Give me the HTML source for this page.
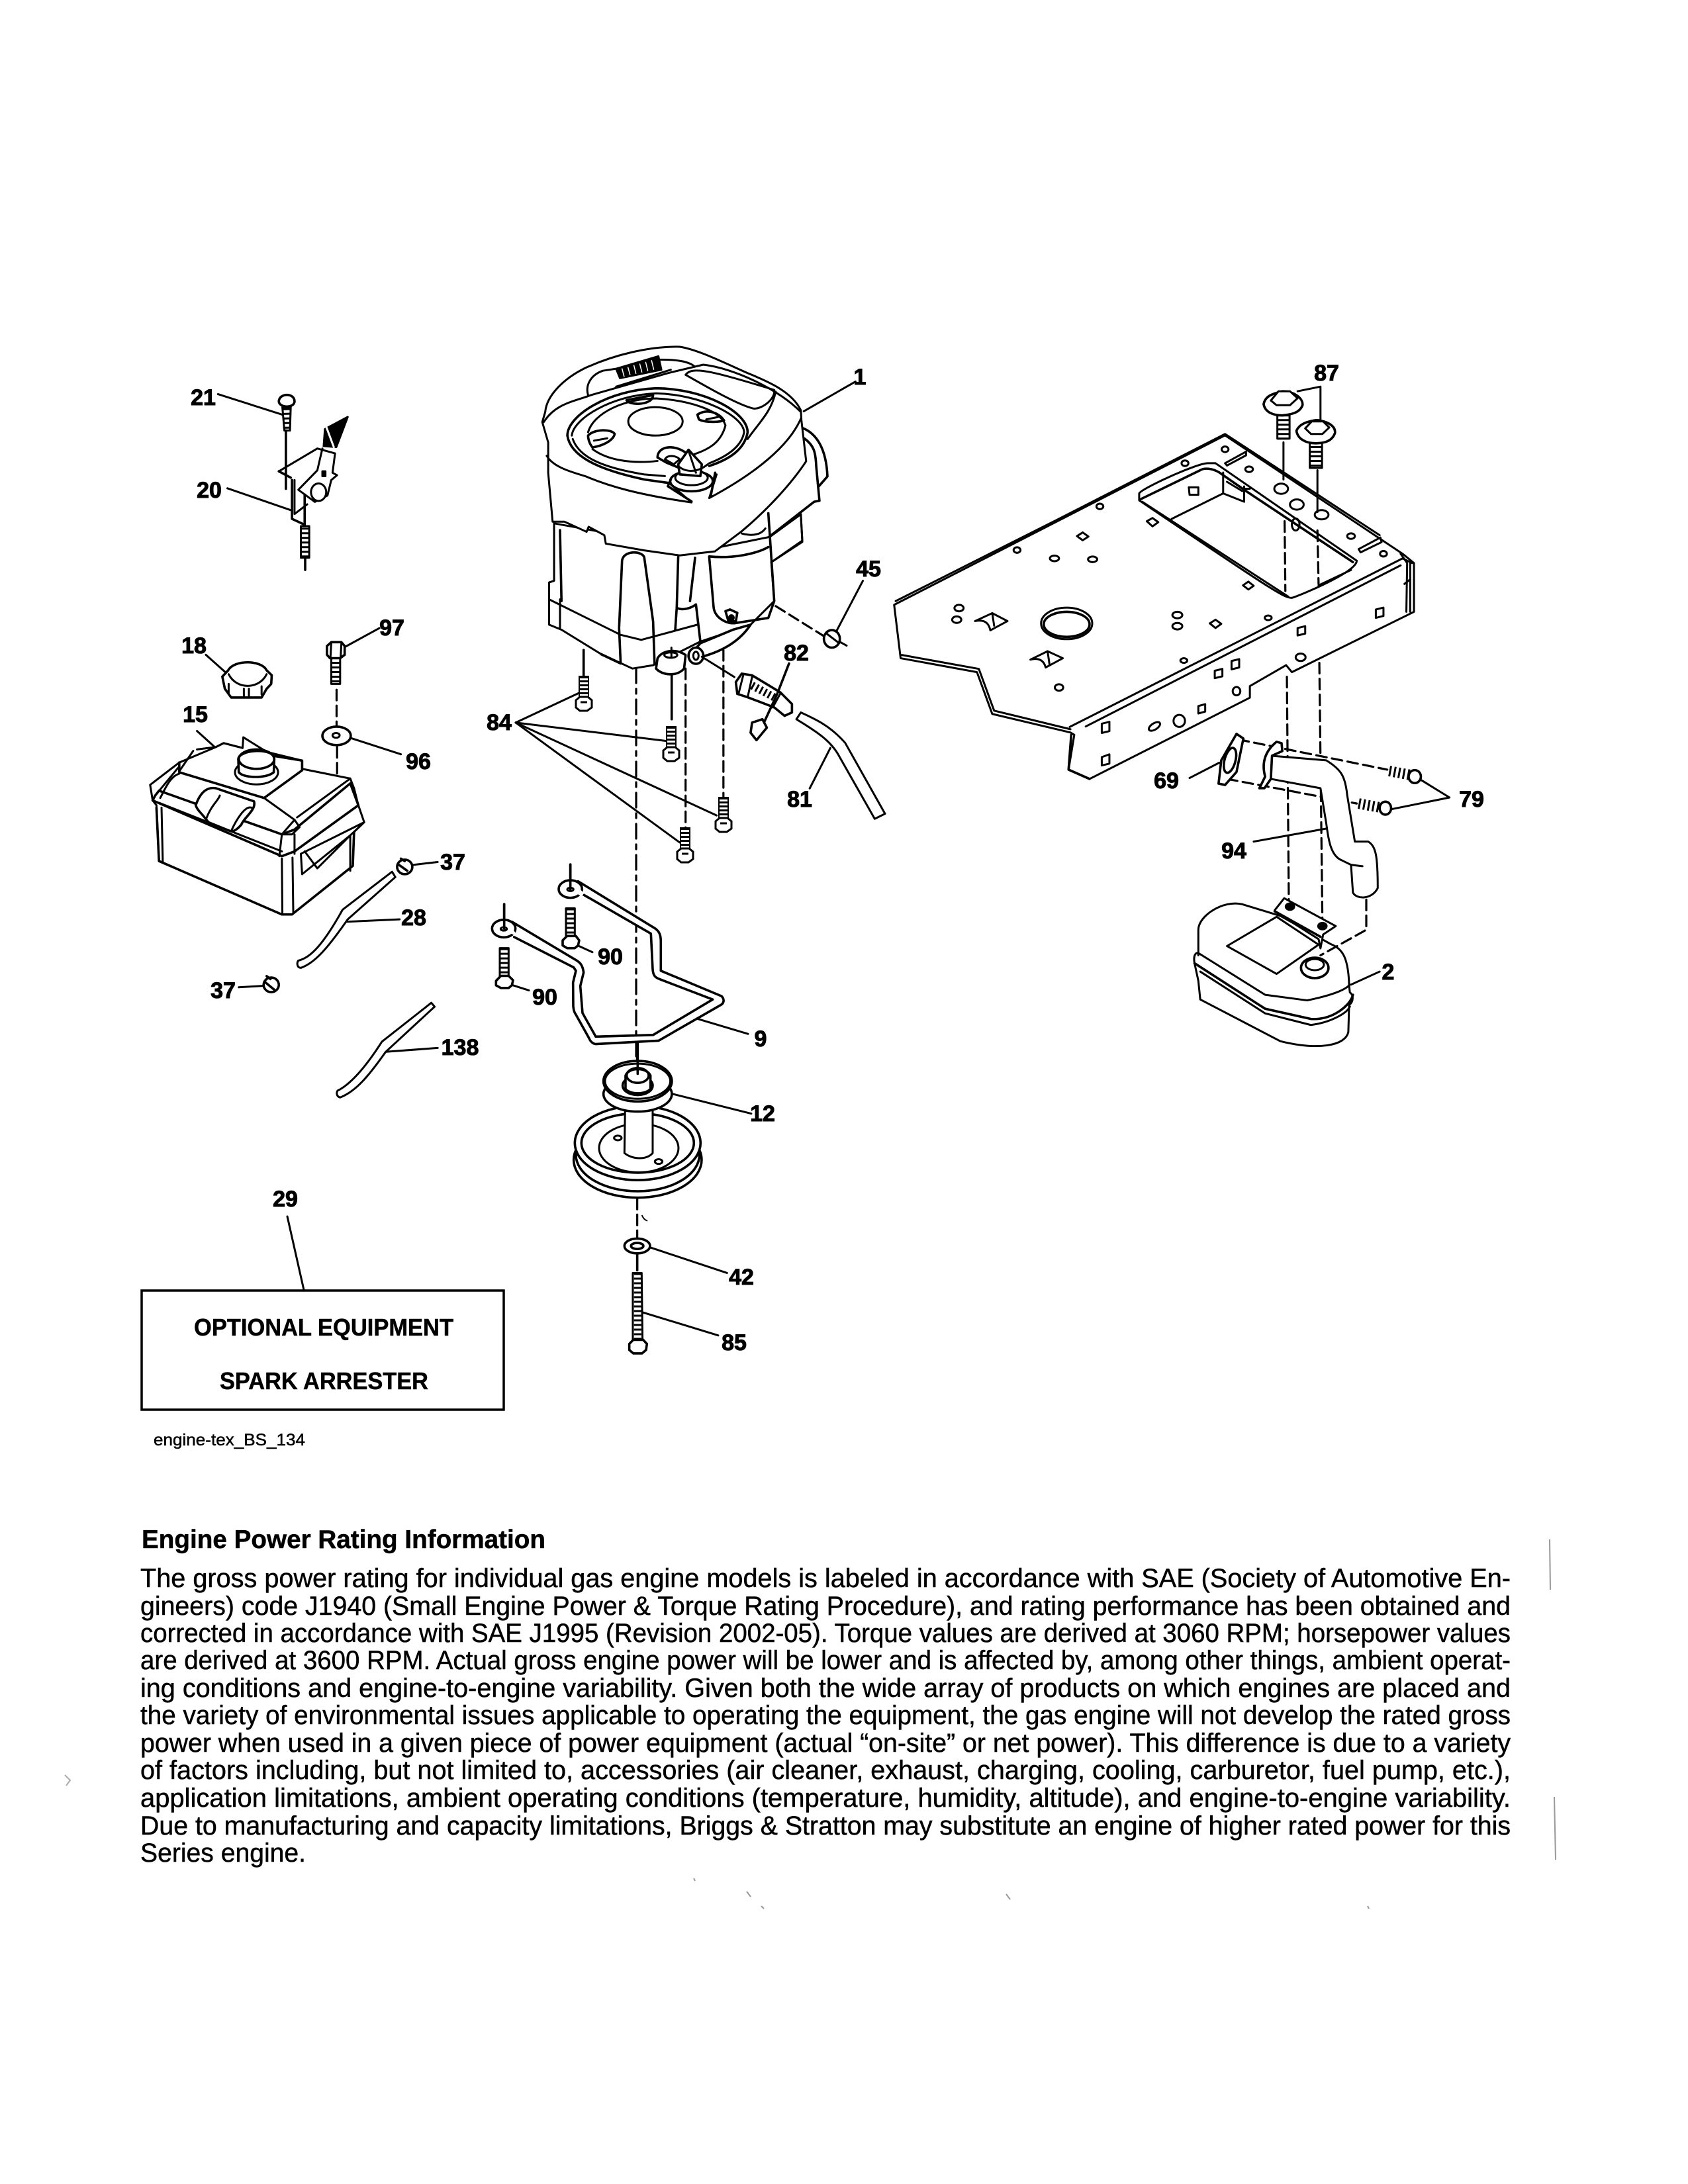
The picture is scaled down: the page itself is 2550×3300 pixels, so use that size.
<!DOCTYPE html>
<html><head><meta charset="utf-8"><title>Engine parts diagram</title>
<style>
html,body{margin:0;padding:0;background:#fff}
svg{display:block}
svg *{vector-effect:non-scaling-stroke}
.p{fill:none;stroke:#000;stroke-width:3;stroke-linejoin:round;stroke-linecap:round}
.w{fill:#fff}
.th{stroke-width:3.6}
.t{stroke-dasharray:3 4;stroke-linecap:butt}
.d{stroke-dasharray:22 9 7 9;stroke-width:3.2}
.d2{stroke-dasharray:16 8;stroke-width:3.2}
text{font-family:"Liberation Sans",Arial,sans-serif;fill:#000;stroke:#000;stroke-width:.5}
.l{font-weight:bold;font-size:34px;text-anchor:middle;stroke-width:1}
.b{font-size:40px}
</style></head><body>
<svg xmlns="http://www.w3.org/2000/svg" width="2550" height="3300" viewBox="0 0 2550 3300">
<rect width="2550" height="3300" fill="#fff"/>
<defs>
<g id="bolt"><rect x="-7" y="-42" width="14" height="33" fill="#fff" stroke="#000" stroke-width="2"/><line x1="0" y1="-42" x2="0" y2="-9" stroke="#000" stroke-width="13" stroke-dasharray="3 3"/>
<path d="M-12,-6 L-6,-11 L6,-11 L12,-6 L12,5 L5,10 L-6,10 L-12,5 Z" fill="#fff" stroke="#000" stroke-width="3"/><path d="M-5,-3 H5" stroke="#000" stroke-width="3"/></g>
</defs>

<!-- ENGINE -->
<g class="p" transform="translate(750,500) scale(.4464,.5102)">
<path class="w" stroke="none" d="M1037,288 C1082,304 1116,347 1120,431 L1091,460 L1093,503 L1075,506 L918,613 L918,529 L1048,386 Z"/>
<path class="th" d="M1037,288 C1082,304 1116,347 1120,431 L1091,460"/>
<path class="th" d="M1041,318 C1075,339 1080,360 1082,400 L1093,503 L1075,506 L918,613"/>
<path class="w" d="M195,570 L195,740 L178,745 L178,870 L220,885 L350,955 L460,1000 L530,990 L690,920 L860,870 L940,800 L930,685 L1035,625 L1030,543 L925,610 L700,650 Z"/>
<path d="M165,240 C170,190 230,140 300,110 C400,70 520,45 620,47 C680,55 760,90 850,125 C920,150 1000,180 1030,235 L1032,265 L1048,386 C1000,450 918,529 829,594 L739,653 L620,665 L500,650 L370,630 L365,605 L312,580 L305,595 L230,565 L190,565 L175,420 L175,330 L155,270 Z" class="w"/>
<path d="M160,270 C200,215 260,210 320,190 L580,125 L700,100 C800,110 950,170 1030,240"/>
<path d="M170,370 C190,400 240,415 300,430 C380,460 480,485 660,508 L590,455"/>
<path d="M1030,260 C990,340 880,420 720,495 L745,425"/>
<path d="M310,190 C300,160 320,130 360,118 L420,110 M555,85 C610,85 650,90 670,105"/>
<path d="M405,165 L590,115"/>
<path d="M405,112 L548,75 L558,115 L418,140 Z" fill="#000"/>
<path d="M425,112 L432,135 M445,108 L452,130 M465,102 L472,126 M485,98 L492,122 M505,93 L512,118 M525,88 L532,114" stroke="#fff" stroke-width="1.5"/>
<path d="M640,130 C660,105 720,115 940,175 C945,200 900,232 870,230 C820,220 720,170 640,130 Z"/>
<path d="M945,180 C930,240 890,270 850,320"/>
<path class="th" d="M240,310 C240,250 380,175 540,170 C700,170 850,240 850,300 C840,350 790,380 720,400"/>
<path d="M255,310 C260,260 390,190 540,185 C690,188 835,250 838,300 C830,340 785,370 720,392"/>
<path class="th" d="M240,310 C250,370 340,410 500,440 L580,450"/>
<path d="M258,320 C280,375 360,405 500,425 L570,430"/>
<path d="M310,300 C330,240 440,200 540,200 C650,205 760,235 775,280 C760,330 720,350 670,365"/>
<path d="M325,350 C370,380 450,395 545,385"/>
<ellipse cx="538" cy="268" rx="92" ry="42"/>
<path class="th" d="M310,310 C330,290 390,290 400,305 C395,325 360,340 325,345 C315,335 310,320 310,310 Z"/>
<path d="M330,325 L375,318"/>
<path class="th" d="M680,248 C710,230 750,240 770,265 C750,272 700,270 685,262 Z"/>
<path d="M710,262 L750,255"/>
<path class="th" d="M440,205 L530,190 C530,205 510,215 480,216 C460,216 445,212 440,205 Z"/>
<path class="w th" d="M545,375 C545,345 590,335 630,355 L650,365 L630,410 L575,390 Z"/>
<path d="M570,380 C580,365 610,370 620,380 L600,395 Z"/>
<ellipse class="w th" cx="660" cy="445" rx="72" ry="30"/>
<ellipse class="w" cx="660" cy="435" rx="55" ry="22"/>
<path class="w th" d="M615,395 L650,352 L695,395 L690,430 L620,425 Z"/>
<path d="M650,355 L675,420 M615,400 C640,420 680,420 715,395"/>
<path class="th" d="M590,440 L580,460 L660,505 M740,420 L725,490"/>
<!-- lower -->
<path class="th" d="M215,590 L220,800"/>
<path d="M178,795 L420,900 L490,915 L680,870"/>
<path class="th" d="M425,680 C430,650 490,650 500,670 L530,860 L535,985"/>
<path class="th" d="M425,680 L415,880 L420,980"/>
<path class="th" d="M355,958 L420,985"/>
<path d="M215,880 L215,795"/>
<path class="th" d="M615,670 L610,820 L605,885 M672,672 L655,800"/>
<path class="th" d="M610,820 C630,830 660,820 675,810 L690,920"/>
<path class="th" d="M720,670 L735,820 C740,850 780,870 810,865 L920,850 L940,800 L920,540"/>
<path class="th" d="M720,668 C800,675 880,660 920,640"/>
<path d="M830,600 C850,605 890,610 910,585 M925,610 L1030,543 L1035,621 L930,685"/>
<path class="w th" d="M775,830 L790,825 L815,835 L810,860 L785,860 Z"/>
<circle cx="795" cy="850" r="8" fill="#000"/>
<path class="w th" d="M650,965 L690,925 L800,885 L860,870 C830,910 780,945 695,965 Z"/>
<ellipse class="w th" cx="675" cy="962" rx="25" ry="24"/>
<ellipse cx="675" cy="962" rx="9" ry="12"/>
<path class="w th" d="M545,970 C560,945 610,940 640,960 L635,1000 C610,1025 560,1020 540,1000 Z"/>
<ellipse cx="590" cy="960" rx="22" ry="8"/>
<line x1="592" y1="938" x2="592" y2="965"/>
<!-- fasteners & dashes -->
<line class="th" x1="295" y1="945" x2="295" y2="1025"/>
<line class="th" x1="593" y1="1020" x2="593" y2="1150"/>
<line class="d2" x1="640" y1="1000" x2="640" y2="1480"/>
<line class="d2" x1="768" y1="945" x2="768" y2="1385"/>
<line x1="65" y1="1160" x2="285" y2="1070"/>
<line x1="65" y1="1160" x2="580" y2="1215"/>
<line x1="65" y1="1160" x2="745" y2="1435"/>
<line x1="65" y1="1160" x2="620" y2="1515"/>
<line x1="1040" y1="238" x2="1215" y2="150"/>
<line x1="1240" y1="740" x2="1150" y2="890"/>
<line class="d2" x1="945" y1="815" x2="1110" y2="905"/>
<line x1="1160" y1="920" x2="1185" y2="932"/>
<ellipse class="th w" cx="1135" cy="912" rx="27" ry="26"/>
<path d="M1115,895 L1160,925"/>
<line x1="695" y1="965" x2="805" y2="1025"/>
<!-- filter -->
<path class="w th" d="M810,1040 L830,1015 L865,1020 L960,1070 L1000,1105 L1000,1130 L975,1140 L940,1115 L850,1085 L815,1075 Z"/>
<path d="M835,1020 L820,1072 M865,1025 L850,1085 M960,1075 L935,1115"/>
<path class="t" d="M865,1050 L950,1090" stroke-width="12"/>
<path class="th" d="M990,985 L950,1075 L900,1170"/>
<path class="w th" d="M865,1160 L900,1150 L915,1175 L880,1212 L860,1190 Z"/>
<!-- hose 81 -->
<path class="w" d="M1030,1130 L1015,1150 C1070,1180 1130,1210 1160,1260 L1280,1445 L1315,1430 L1180,1220 C1130,1170 1080,1150 1030,1130 Z"/>
<line x1="1130" y1="1235" x2="1060" y2="1355"/>
</g>
<use href="#bolt" x="882" y="1064"/>
<use href="#bolt" x="1014" y="1140"/>
<use href="#bolt" x="1093" y="1247"/>
<use href="#bolt" x="1035" y="1293"/>

<!-- central axis -->
<line class="p d" x1="961" y1="1010" x2="961" y2="1620"/>

<!-- DECK -->
<g class="p" transform="translate(1300,500) scale(.5766,.7015)">
<path class="w" d="M88,590 L955,225 L1420,480 L1450,500 L1450,605 L1130,735 L1115,720 L1020,765 L1020,790 L600,965 L545,945 L560,870 L550,865 L345,825 L305,735 L105,705 Z"/>
<path d="M92,582 L512,408 L955,222 L1360,440 M108,698 L310,728 L350,818 L550,858"/>
<path d="M548,853 L1420,490 L1445,500 M590,852 L1415,505"/>
<path class="th" d="M552,870 L545,945 L600,965"/>
<path d="M1415,480 L1432,500 L1430,605 M1440,500 L1440,605"/>
<path class="w" d="M730,350 C735,340 880,285 910,285 L930,285 L1300,495 C1300,520 1150,570 1130,575 C1110,575 1090,565 730,365 Z"/>
<path class="th" d="M735,362 L890,300 C900,295 920,295 940,305 L1010,345 L1290,498"/>
<path d="M815,405 L950,350 L950,305 M950,350 L1005,368 L1005,335 M960,325 L1000,345"/>
<path d="M1200,548 L1285,515 M1005,340 L1020,340"/>
<path d="M738,368 L1120,572"/>
<ellipse cx="540" cy="630" rx="67" ry="34"/><ellipse class="th" cx="540" cy="632" rx="60" ry="27"/>
<g>
<ellipse cx="850" cy="285" rx="9" ry="6"/><ellipse cx="955" cy="255" rx="9" ry="6"/><ellipse cx="1018" cy="298" rx="10" ry="6"/><ellipse cx="627" cy="378" rx="9" ry="6"/><ellipse cx="410" cy="472" rx="9" ry="6"/><ellipse cx="508" cy="490" rx="12" ry="6"/><ellipse cx="608" cy="492" rx="12" ry="6"/><ellipse cx="258" cy="597" rx="12" ry="7"/><ellipse cx="252" cy="622" rx="12" ry="7"/><ellipse cx="830" cy="612" rx="13" ry="7"/><ellipse cx="830" cy="636" rx="13" ry="7"/><ellipse cx="847" cy="710" rx="9" ry="5"/><ellipse cx="1068" cy="618" rx="9" ry="5"/><ellipse cx="520" cy="768" rx="11" ry="7"/><ellipse cx="1285" cy="442" rx="10" ry="6"/><ellipse cx="1370" cy="480" rx="9" ry="6"/>
</g>
<g>
<path d="M860,337 H885 V353 H862 Z M750,410 L765,403 L780,412 L765,421 Z M567,442 L582,434 L597,443 L582,451 Z M1002,548 L1016,540 L1030,549 L1016,557 Z M915,630 L930,622 L945,631 L930,640 Z M1350,600 L1370,596 L1370,614 L1350,618 Z M1145,640 L1165,636 L1165,652 L1145,656 Z M972,711 L992,707 L992,725 L972,729 Z M928,732 L948,728 L948,744 L928,748 Z M885,808 L903,804 L903,820 L885,824 Z M632,846 L652,842 L652,862 L632,866 Z M632,918 L652,912 L652,932 L632,936 Z"/>
</g>
<ellipse cx="770" cy="852" rx="16" ry="7" transform="rotate(-25 770 852)"/>
<ellipse cx="835" cy="840" rx="15" ry="13"/><ellipse cx="985" cy="776" rx="10" ry="9"/><ellipse cx="1153" cy="703" rx="13" ry="8"/>
<ellipse cx="1102" cy="340" rx="18" ry="11"/><ellipse cx="1143" cy="374" rx="18" ry="11"/><ellipse cx="1208" cy="396" rx="18" ry="10"/>
<ellipse cx="1140" cy="417" rx="10" ry="13"/>
<path d="M955,285 L1010,260 L1010,268 L960,290 Z M1305,470 L1362,445 L1365,455 L1310,477 Z"/>
<path d="M300,625 L345,608 L385,625 L340,645 C335,625 320,622 300,625 Z M445,708 L490,690 L530,705 L485,725 C480,708 465,704 445,708 Z"/>
<path d="M345,608 L350,635 M490,690 L495,718"/>
<path d="M1425,545 L1440,535"/>
<!-- 87 bolts -->
<line x1="1108" y1="240" x2="1108" y2="320"/>
<line x1="1197" y1="300" x2="1197" y2="390"/>
<line class="d2" x1="1111" y1="410" x2="1113" y2="560"/>
<line class="d2" x1="1197" y1="430" x2="1200" y2="545"/>
<path class="w" d="M1092,180 L1092,232 L1124,232 L1124,180 Z"/>
<line class="t" x1="1107" y1="180" x2="1107" y2="235" stroke-width="18"/>
<path class="w th" d="M1056,158 C1060,140 1080,135 1105,130 C1135,130 1160,145 1158,160 C1150,178 1125,180 1105,182 C1080,182 1060,175 1056,158 Z"/>
<path class="w" d="M1075,150 L1095,130 L1125,130 L1145,145 L1125,160 L1090,160 Z"/>
<path class="w" d="M1177,238 L1177,295 L1209,295 L1209,238 Z"/>
<line class="t" x1="1192" y1="238" x2="1192" y2="295" stroke-width="18"/>
<path class="w th" d="M1142,215 C1150,200 1170,195 1195,192 C1225,195 1245,205 1243,220 C1235,238 1215,242 1192,242 C1165,242 1145,232 1142,215 Z"/>
<path class="w" d="M1165,210 L1182,195 L1212,195 L1228,208 L1210,222 L1180,222 Z"/>
<path d="M1145,130 L1205,120 L1205,190"/>
<!-- lower dashes -->
<line class="d2" x1="1117" y1="745" x2="1122" y2="1225"/>
<line class="d2" x1="1202" y1="715" x2="1205" y2="920"/>
<line class="d2" x1="1206" y1="990" x2="1210" y2="1270"/>
<line class="d2" x1="990" y1="880" x2="1380" y2="945"/>
<line class="d2" x1="960" y1="965" x2="1300" y2="1018"/>
<path class="w th" d="M945,925 L985,868 L1003,878 L985,950 L955,978 L938,975 Z"/>
<ellipse class="th" cx="968" cy="925" rx="14" ry="28" transform="rotate(20 968 925)"/>
<path class="w" d="M1075,915 L1220,925 C1260,945 1270,960 1275,1000 L1295,1100 L1330,1100 C1350,1110 1355,1130 1355,1200 C1340,1225 1300,1225 1290,1210 L1285,1150 L1260,1140 C1230,1130 1225,1090 1220,1060 L1205,985 L1075,965 Z"/>
<path d="M1285,1150 L1315,1153"/>
<path class="w th" d="M1045,985 L1060,960 C1050,930 1060,905 1090,885 L1103,888 L1105,905 L1078,915 L1075,965 L1058,985 Z"/>
<line class="t" x1="1385" y1="948" x2="1438" y2="956" stroke-width="16"/>
<line class="t" x1="1305" y1="1018" x2="1358" y2="1026" stroke-width="16"/>
<ellipse class="w th" cx="1452" cy="960" rx="16" ry="14"/>
<ellipse class="w th" cx="1375" cy="1028" rx="15" ry="14"/>
<path d="M1543,1005 L1470,968 M1543,1005 L1392,1030"/>
<line x1="1030" y1="1100" x2="1220" y2="1072"/>
<line x1="862" y1="963" x2="940" y2="930"/>
<line x1="1285" y1="1408" x2="1360" y2="1380"/>
<!-- muffler -->
<path class="w" d="M885,1290 C885,1260 950,1225 1000,1235 L1100,1260 L1230,1320 C1260,1330 1278,1345 1280,1410 L1282,1425 C1292,1430 1292,1445 1280,1452 L1278,1510 C1270,1540 1200,1550 1100,1530 L890,1440 L885,1400 L875,1362 C870,1340 885,1335 885,1345 Z"/>
<path d="M885,1340 L1060,1430 L1170,1442 C1230,1432 1270,1420 1282,1408"/>
<path class="th" d="M875,1362 L1060,1460 L1180,1482 C1240,1485 1285,1450 1290,1430"/>
<path d="M890,1380 L1060,1470 L1180,1495 C1230,1490 1275,1470 1282,1455"/>
<path d="M960,1325 L1090,1262 L1200,1322 L1090,1385 Z"/>
<path class="w" d="M1085,1248 L1110,1222 L1245,1282 L1212,1300 L1205,1330 L1200,1310 L1085,1250 Z"/>
<path class="th" d="M1085,1250 L1205,1305"/>
<ellipse cx="1125" cy="1240" rx="11" ry="7" fill="#000"/><ellipse cx="1210" cy="1282" rx="11" ry="7" fill="#000"/>
<path class="d2" d="M1325,1225 L1325,1290 L1205,1345"/>
<ellipse class="th" cx="1190" cy="1372" rx="36" ry="22"/><ellipse cx="1190" cy="1365" rx="24" ry="12"/>
</g>

<!-- LEVER, TANK etc -->
<g class="p" transform="translate(200,520) scale(.3827,.7334)">
<line x1="338" y1="103" x2="590" y2="145"/>
<line x1="375" y1="297" x2="625" y2="342"/>
<line x1="290" y1="640" x2="365" y2="675"/>
<line x1="255" y1="797" x2="325" y2="830"/>
<line x1="975" y1="585" x2="835" y2="625"/>
<line x1="865" y1="812" x2="1060" y2="845"/>
<line x1="1105" y1="1073" x2="1205" y2="1067"/>
<line x1="845" y1="1190" x2="1055" y2="1185"/>
<line x1="420" y1="1325" x2="520" y2="1322"/>
<line x1="1000" y1="1458" x2="1205" y2="1450"/>
<!-- screw 21 -->
<path class="w th" d="M578,118 C580,100 640,100 640,118 C640,132 580,132 578,118 Z"/>
<path class="w" d="M592,130 L600,178 L622,178 L625,130 Z"/>
<line class="t" x1="608" y1="132" x2="610" y2="178" stroke-width="11"/>
<line class="th" x1="606" y1="178" x2="606" y2="298"/>
<!-- lever -->
<path d="M760,175 L850,150 L805,212 L755,210 Z" fill="#000"/>
<path d="M765,170 L795,212" stroke="#fff"/>
<path class="w" d="M578,262 L730,215 L800,225 L790,265 L808,270 L785,280 L770,312 L720,325 L655,300 L730,260 L750,215"/>
<path class="th" d="M630,280 L630,360 L680,372 L680,310"/>
<path d="M640,280 L640,350 L690,330"/>
<ellipse class="w" cx="735" cy="305" rx="30" ry="18"/>
<rect x="750" y="262" width="12" height="10" fill="#000"/>
<path class="th" d="M578,262 L625,275"/>
<line class="th" x1="682" y1="375" x2="682" y2="465"/>
<path class="w" d="M665,375 L665,440 L698,440 L698,375 Z"/>
<line class="t" x1="682" y1="378" x2="682" y2="440" stroke-width="14"/>
<!-- cap 18 -->
<path class="w th" d="M355,685 L378,672 C400,650 510,650 530,672 L550,682 L548,700 L530,710 L510,728 L390,728 L365,710 Z"/>
<path d="M380,680 C410,712 500,712 530,680"/>
<path d="M380,700 L380,720 M440,710 L440,728 M460,710 L460,728 M510,705 L510,722"/>
<!-- bolt 97 -->
<path class="w" d="M785,645 L785,700 L820,700 L820,645 Z"/>
<line class="t" x1="802" y1="645" x2="802" y2="700" stroke-width="14"/>
<path class="w th" d="M768,622 L785,614 L825,614 L838,622 L838,640 L820,647 L780,647 L768,640 Z"/>
<path d="M785,614 L782,645 M825,616 L822,646"/>
<line class="d2" x1="806" y1="712" x2="806" y2="790"/>
<ellipse class="w th" cx="806" cy="807" rx="56" ry="19"/>
<ellipse cx="804" cy="806" rx="14" ry="5"/>
<line class="d2" x1="808" y1="830" x2="808" y2="1015"/>
<!-- tank -->
<path class="w" d="M70,908 L185,862 L330,830 L360,822 L435,832 L438,810 L530,840 L670,858 L670,875 L860,895 L875,915 L892,950 L915,985 L875,1005 L870,1075 L630,1175 L590,1175 L105,1065 L95,950 L80,940 Z"/>
<path class="th" d="M185,862 L185,882 L520,935 L670,878 L670,858 L555,848"/>
<path d="M185,880 L240,838 M90,930 L185,870 M330,830 L255,835"/>
<path d="M330,830 L360,822 L435,832"/>
<path class="th" d="M80,940 L90,930 L105,920 L590,1010 L640,1000 L860,905 L892,950 L640,1045 L590,1055 L80,940"/>
<path d="M110,935 C130,915 150,890 185,885 M650,975 L860,895 M105,945 L590,1045"/>
<path d="M520,935 L640,980 L660,995 L630,1010 L590,1010 L580,1055 M640,980 L590,1010 M640,1010 L640,1050"/>
<path class="th" d="M95,955 L105,1065 L590,1175 L630,1175 L870,1075 L875,1005"/>
<path d="M115,955 L120,1068 M590,1060 L592,1172 M632,1058 L635,1170"/>
<path class="w th" d="M250,950 C270,920 300,912 330,915 L480,942 C490,960 440,975 430,990 C410,1002 395,1005 385,1003 L300,985 C280,970 255,960 250,950 Z"/>
<path d="M290,980 C310,950 340,940 345,930 M390,1003 C410,980 445,950 470,955"/>
<path class="w" d="M665,1050 L915,985 L860,1012 L670,1092 Z"/>
<path d="M680,1045 L730,1080 L860,1012 L860,1085" />
<ellipse class="w" cx="490" cy="882" rx="85" ry="25"/>
<path class="w th" d="M418,855 C420,835 560,830 560,855 L558,882 C530,895 440,895 420,882 Z"/>
<ellipse class="th" cx="490" cy="855" rx="70" ry="20"/>
<!-- hoses -->
<path class="w" d="M655,1270 C700,1265 750,1240 830,1165 L1025,1087 L1038,1098 L850,1185 C770,1245 720,1275 665,1285 C650,1285 648,1275 655,1270 Z"/>
<ellipse class="w th" cx="1075" cy="1077" rx="30" ry="15"/><path class="th" d="M1050,1072 L1085,1085 M1060,1060 L1075,1065"/>
<ellipse class="w th" cx="548" cy="1320" rx="30" ry="15"/><path class="th" d="M525,1315 L560,1330 M530,1302 L545,1308"/>
<path class="w" d="M810,1538 C860,1525 920,1490 985,1437 L1180,1357 L1193,1365 L1000,1458 C930,1510 880,1540 820,1552 C805,1550 805,1542 810,1538 Z"/>
</g>

<!-- BRACKET, PULLEYS -->
<g class="p" transform="translate(700,1250) scale(.3333,.5102)">
<line class="th" x1="485" y1="110" x2="485" y2="160"/>
<line class="th" x1="185" y1="228" x2="185" y2="280"/>
<path class="w" d="M465,240 L465,325 L505,325 L505,240 Z"/>
<path class="w" d="M165,358 L165,442 L205,442 L205,358 Z"/>
<line class="t" x1="485" y1="240" x2="485" y2="320" stroke-width="13"/>
<line class="t" x1="185" y1="358" x2="185" y2="438" stroke-width="13"/>
<path class="w" stroke="none" d="M520,160 L870,300 C890,310 895,320 895,340 L895,425 L1170,500 C1185,510 1180,520 1170,525 L885,632 L600,642 C590,642 575,635 570,625 L510,555 C500,545 500,540 498,530 L497,460 L510,425 L500,415 L215,305 L240,290 L530,400 C545,410 540,430 535,470 L540,550 L600,620 L860,615 L1130,510 L890,450 C870,445 860,440 858,420 L850,315 L500,195 Z"/>
<path class="th" d="M520,160 L870,300 C890,310 895,320 895,340 L895,425 L1170,500 C1185,510 1180,520 1170,525 L885,632 L600,642 C590,642 575,635 570,625 L510,555 C500,545 500,540 498,530 L497,460 L510,425 L500,415 L230,325"/>
<path class="th" d="M540,198 L850,315 L858,420 C860,440 870,445 890,450 L1130,510 L860,615 L600,620 L540,550 L530,470 L545,430 C540,405 525,400 515,395 L220,280"/>
<ellipse class="w th" cx="485" cy="183" rx="53" ry="26"/>
<path class="w" d="M505,170 L548,195 L535,205 L500,190 Z" stroke="none"/>
<ellipse cx="485" cy="184" rx="14" ry="5"/><line class="th" x1="485" y1="110" x2="485" y2="184"/>
<ellipse class="w th" cx="183" cy="300" rx="53" ry="26"/>
<path class="w" d="M205,288 L240,315 L235,322 L200,308 Z" stroke="none"/>
<ellipse cx="183" cy="301" rx="14" ry="5"/><line class="th" x1="185" y1="228" x2="185" y2="300"/>
<path class="w th" d="M450,335 L470,322 L510,322 L525,335 L520,350 L505,358 L470,358 L450,350 Z"/>
<path class="w th" d="M148,455 L170,440 L205,440 L225,453 L220,468 L205,476 L170,476 L148,468 Z"/>
<line x1="525" y1="352" x2="585" y2="370"/>
<line x1="225" y1="468" x2="297" y2="483"/>
<line x1="1065" y1="568" x2="1290" y2="612"/>
<line x1="950" y1="790" x2="1305" y2="848"/>
<line x1="850" y1="1245" x2="1195" y2="1320"/>
<line x1="815" y1="1437" x2="1155" y2="1505"/>
<line class="th" x1="788" y1="640" x2="788" y2="730"/>
<!-- big pulley -->
<ellipse class="w th" cx="790" cy="985" rx="290" ry="112"/>
<ellipse class="w th" cx="790" cy="970" rx="280" ry="108"/>
<ellipse class="w th" cx="790" cy="935" rx="285" ry="110"/>
<ellipse cx="790" cy="935" rx="255" ry="88" class="th"/>
<ellipse cx="795" cy="950" rx="180" ry="72"/>
<ellipse cx="700" cy="920" rx="17" ry="7"/><ellipse cx="885" cy="990" rx="17" ry="7"/>
<path class="w" d="M733,835 L730,965 C770,985 830,985 858,965 L858,835 Z"/>
<!-- small pulley -->
<ellipse class="w th" cx="790" cy="790" rx="155" ry="52"/>
<ellipse class="w th" cx="790" cy="752" rx="155" ry="60"/>
<ellipse cx="790" cy="752" rx="148" ry="52"/>
<ellipse class="w th" cx="790" cy="765" rx="68" ry="28"/>
<path class="w th" d="M735,735 C750,710 830,710 848,735 L848,775 C825,792 755,792 735,775 Z"/>
<ellipse class="th" cx="790" cy="735" rx="50" ry="22"/>
<line class="th" x1="790" y1="640" x2="790" y2="730"/>
<line class="d2" x1="788" y1="1100" x2="788" y2="1225"/>
<path d="M810,1150 Q818,1162 832,1165" stroke-width="2"/>
<ellipse class="w th" cx="788" cy="1240" rx="58" ry="22"/>
<ellipse class="th" cx="788" cy="1240" rx="28" ry="9"/>
<line class="th" x1="788" y1="1262" x2="788" y2="1312"/>
<path class="w" d="M768,1320 L808,1320 L812,1525 L768,1525 Z"/>
<line class="t" x1="790" y1="1320" x2="790" y2="1515" stroke-width="11"/>
<path class="w th" d="M752,1530 L770,1518 L815,1518 L832,1530 L828,1548 L810,1558 L770,1558 L752,1548 Z"/>
</g>

<!-- labels -->
<g>
<text class="l" x="307" y="612">21</text>
<text class="l" x="316" y="752">20</text>
<text class="l" x="293" y="987">18</text>
<text class="l" x="295" y="1091">15</text>
<text class="l" x="592" y="960">97</text>
<text class="l" x="632" y="1162">96</text>
<text class="l" x="684" y="1314">37</text>
<text class="l" x="625" y="1398">28</text>
<text class="l" x="337" y="1508">37</text>
<text class="l" x="695" y="1594">138</text>
<text class="l" x="754" y="1103">84</text>
<text class="l" x="922" y="1457">90</text>
<text class="l" x="823" y="1518">90</text>
<text class="l" x="1149" y="1581">9</text>
<text class="l" x="1152" y="1694">12</text>
<text class="l" x="1120" y="1941">42</text>
<text class="l" x="1109" y="2040">85</text>
<text class="l" x="431" y="1823">29</text>
<text class="l" x="1299" y="581">1</text>
<text class="l" x="1312" y="871">45</text>
<text class="l" x="1203" y="998">82</text>
<text class="l" x="1208" y="1219">81</text>
<text class="l" x="2004" y="575">87</text>
<text class="l" x="2223" y="1219">79</text>
<text class="l" x="1762" y="1191">69</text>
<text class="l" x="1864" y="1297">94</text>
<text class="l" x="2097" y="1480">2</text>
</g>

<!-- Optional equipment box -->
<line class="p" x1="434" y1="1838" x2="459" y2="1949"/>
<rect x="214" y="1950" width="547" height="180" fill="#fff" stroke="#000" stroke-width="3.5"/>
<text x="293" y="2018" font-size="36" font-weight="bold" textLength="392" lengthAdjust="spacingAndGlyphs">OPTIONAL EQUIPMENT</text>
<text x="332" y="2099" font-size="36" font-weight="bold" textLength="315" lengthAdjust="spacingAndGlyphs">SPARK ARRESTER</text>
<text x="232" y="2184" font-size="25" textLength="229" lengthAdjust="spacingAndGlyphs">engine-tex_BS_134</text>

<!-- Text block -->
<text x="214" y="2339" font-size="39" font-weight="bold" textLength="610" lengthAdjust="spacingAndGlyphs">Engine Power Rating Information</text>
<g>
<text class="b" x="212" y="2398" textLength="2070" lengthAdjust="spacingAndGlyphs">The gross power rating for individual gas engine models is labeled in accordance with SAE (Society of Automotive En-</text>
<text class="b" x="212" y="2440" textLength="2070" lengthAdjust="spacingAndGlyphs">gineers) code J1940 (Small Engine Power &amp; Torque Rating Procedure), and rating performance has been obtained and</text>
<text class="b" x="212" y="2481" textLength="2070" lengthAdjust="spacingAndGlyphs">corrected in accordance with SAE J1995 (Revision 2002-05). Torque values are derived at 3060 RPM; horsepower values</text>
<text class="b" x="212" y="2522" textLength="2070" lengthAdjust="spacingAndGlyphs">are derived at 3600 RPM. Actual gross engine power will be lower and is affected by, among other things, ambient operat-</text>
<text class="b" x="212" y="2564" textLength="2070" lengthAdjust="spacingAndGlyphs">ing conditions and engine-to-engine variability. Given both the wide array of products on which engines are placed and</text>
<text class="b" x="212" y="2605" textLength="2070" lengthAdjust="spacingAndGlyphs">the variety of environmental issues applicable to operating the equipment, the gas engine will not develop the rated gross</text>
<text class="b" x="212" y="2647" textLength="2070" lengthAdjust="spacingAndGlyphs">power when used in a given piece of power equipment (actual “on-site” or net power). This difference is due to a variety</text>
<text class="b" x="212" y="2688" textLength="2070" lengthAdjust="spacingAndGlyphs">of factors including, but not limited to, accessories (air cleaner, exhaust, charging, cooling, carburetor, fuel pump, etc.),</text>
<text class="b" x="212" y="2730" textLength="2070" lengthAdjust="spacingAndGlyphs">application limitations, ambient operating conditions (temperature, humidity, altitude), and engine-to-engine variability.</text>
<text class="b" x="212" y="2772" textLength="2070" lengthAdjust="spacingAndGlyphs">Due to manufacturing and capacity limitations, Briggs &amp; Stratton may substitute an engine of higher rated power for this</text>
<text class="b" x="212" y="2813" textLength="250" lengthAdjust="spacingAndGlyphs">Series engine.</text>
</g>

<!-- scan marks -->
<g stroke="#999" stroke-width="2" fill="none">
<line x1="2341" y1="2326" x2="2342" y2="2402"/>
<line x1="2348" y1="2715" x2="2350" y2="2810"/>
<path d="M98,2682 L106,2690 L100,2698" stroke="#aaa"/>
<path d="M1128,2858 L1134,2866 M1150,2880 L1154,2884 M1048,2838 L1050,2842 M1520,2862 L1526,2870 M2066,2880 L2068,2884" stroke="#999"/>
</g>
</svg>
</body></html>
